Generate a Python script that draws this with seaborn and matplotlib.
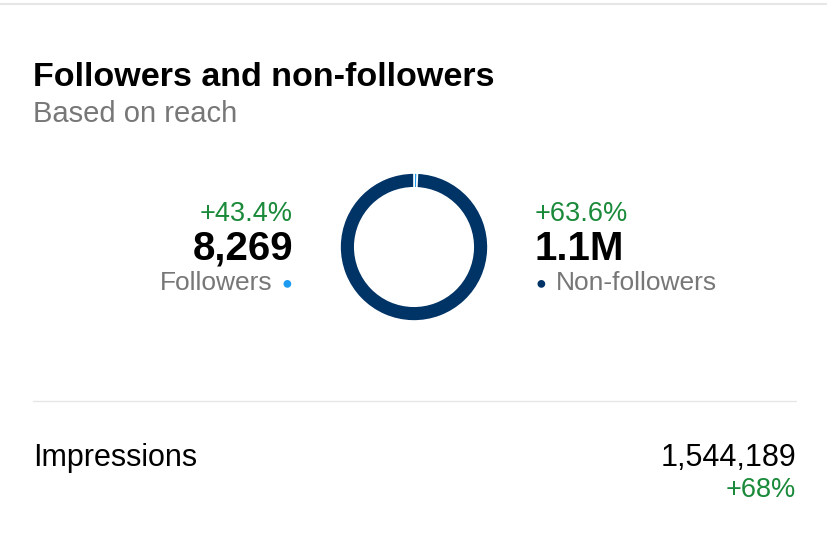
import matplotlib
matplotlib.use("Agg")
import matplotlib.pyplot as plt
import seaborn as sns

sns.set_theme(style="white")
plt.rcParams['font.family'] = ['Liberation Sans', 'DejaVu Sans']

labels = ["Followers", "Non-followers"]
values = [8269, 1100000]
value_text = ["8,269", "1.1M"]
changes = ["+43.4%", "+63.6%"]
colors = ["#1d9bf0", "#003366"]
impressions = "1,544,189"
impr_change = "+68%"

W, H = 828, 553
fig = plt.figure(figsize=(W/100, H/100), dpi=100)
def fx(x): return x / W
def fy(y): return 1 - y / H

GREEN = "#1a8a3a"
GREY = "#777777"

fig.add_artist(plt.Line2D([0, 1], [fy(4), fy(4)], color="#e6e6e6", lw=1.5))
fig.text(fx(33), fy(78), "Followers and non-followers", fontsize=24.5, fontweight="bold", va="center", ha="left", color="black")
fig.text(fx(33), fy(114), "Based on reach", fontsize=21, va="center", ha="left", color=GREY)

cx, cy, r = 414, 247, 74
ax = fig.add_axes([fx(cx - r), fy(cy + r), 2*r/W, 2*r/H])
ax.pie(values, colors=colors, startangle=90, counterclock=False, radius=1,
       wedgeprops=dict(width=0.2, edgecolor="white", linewidth=1.2))
ax.set_xlim(-1, 1)
ax.set_ylim(-1, 1)
ax.set_aspect("equal")
ax.axis("off")

# left block
fig.text(fx(293), fy(214), changes[0], fontsize=19.5, color=GREEN, ha="right", va="center")
fig.text(fx(293), fy(249), value_text[0], fontsize=29, fontweight="bold", color="black", ha="right", va="center")
fig.text(fx(272), fy(283), labels[0], fontsize=19, color=GREY, ha="right", va="center")
fig.text(fx(287), fy(284), "●", fontsize=13, color=colors[0], ha="center", va="center")
# right block
fig.text(fx(535), fy(214), changes[1], fontsize=19.5, color=GREEN, ha="left", va="center")
fig.text(fx(535), fy(249), value_text[1], fontsize=29, fontweight="bold", color="black", ha="left", va="center")
fig.text(fx(541), fy(284), "●", fontsize=13, color=colors[1], ha="center", va="center")
fig.text(fx(556), fy(283), labels[1], fontsize=19, color=GREY, ha="left", va="center")

fig.add_artist(plt.Line2D([fx(33), fx(796)], [fy(401), fy(401)], color="#e6e6e6", lw=1))
fig.text(fx(33), fy(458), "Impressions", fontsize=22, color="black", ha="left", va="center")
fig.text(fx(796), fy(458), impressions, fontsize=22, color="black", ha="right", va="center")
fig.text(fx(796), fy(490), impr_change, fontsize=19.5, color=GREEN, ha="right", va="center")

fig.savefig("out.png", dpi=100, facecolor="white")
